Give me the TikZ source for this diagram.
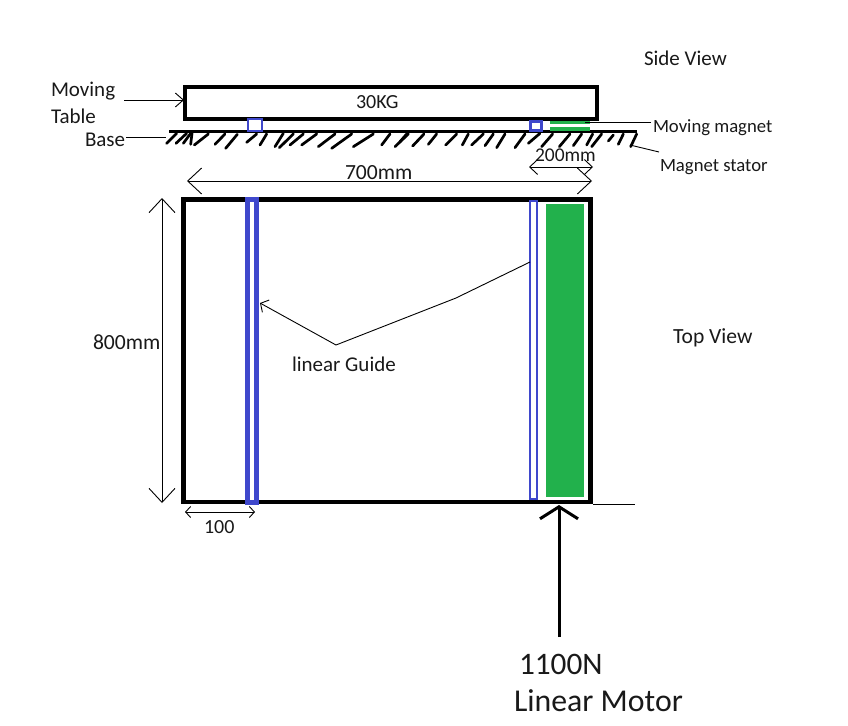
\documentclass[tikz,border=0pt]{standalone}
\usepackage{fontspec}
\setmainfont{Carlito}
\usetikzlibrary{arrows.meta}
\definecolor{guideblue}{RGB}{63,72,204}
\definecolor{magnetgreen}{RGB}{34,177,76}
\tikzset{
  txt/.style={anchor=west,inner sep=0pt,outer sep=0pt,text=black!90},
  lab/.style={txt,font=\fontsize{21}{25}\selectfont},
  heavy/.style={draw=black,line width=3.6pt,fill=white,inner sep=0pt,outer sep=0pt},
  guide/.style={draw=guideblue,fill=white,inner sep=0pt,outer sep=0pt},
  magnet/.style={fill=magnetgreen,inner sep=0pt,outer sep=0pt},
  leader/.style={draw=black,line width=0.9pt},
  dim/.style={leader,{Straight Barb[length=14pt,width=26pt]}-{Straight Barb[length=14pt,width=26pt]}},
  smalldim/.style={leader,{Straight Barb[length=8pt,width=15pt]}-{Straight Barb[length=8pt,width=15pt]}},
  hatch/.style={draw=black,line width=2.7pt,line cap=round}
}
\begin{document}
\begin{tikzpicture}[x=1pt,y=-1pt]
\useasboundingbox (0,0) rectangle (848,725);
% side view
\node[heavy,minimum width=412pt,minimum height=32pt] (table) at (390.8,103) {};
\node[txt,font=\fontsize{20}{24}\selectfont] (kg) at (356,102.5) {30KG};
\coordinate (baseL) at (169,131.5);
\coordinate (baseR) at (637,131.5);
\foreach \xa/\ya/\xb/\yb in {20/55/50/25,48/55/80/25,70/55/92/25,92/58/96/25,103/60/145/27,165/58/195/27,197/70/232/28,260/52/290/27,300/60/320/27,345/65/370/25,358/68/400/27,390/60/430/27,425/60/470/27,475/65/525/27,515/70/575/27,580/65/640/27,665/60/690/27,705/65/745/27}
  \draw[hatch] ({160+\xa/3},{125+\ya/3}) -- ({160+\xb/3},{125+\yb/3});
\foreach \xa/\ya/\xb/\yb in {0/50/20/27,38/63/72/27,85/58/110/27,137/60/170/27,187/60/205/27,215/60/250/27,255/62/280/27,290/68/315/27,345/68/375/27,385/55/420/25,425/65/458/27,478/65/510/27,520/62/545/27,560/60/578/27,575/65/605/27,625/48/640/30,655/58/670/27,692/65/710/27}
  \draw[hatch] ({400+\xa/3},{125+\ya/3}) -- ({400+\xb/3},{125+\yb/3});
\draw[draw=black,line width=3.2pt] (baseL) -- (baseR);
\node[guide,line width=2.6pt,minimum width=14pt,minimum height=12pt] (sideA) at (255,125) {};
\node[guide,line width=2.4pt,minimum width=11pt,minimum height=9pt] (sideB) at (536,126) {};
\node[magnet,minimum width=40pt,minimum height=3.5pt] (magMove) at (570,122.7) {};
\node[magnet,minimum width=40pt,minimum height=4.5pt] (magStat) at (570,129) {};
% top view
\node[draw=black,line width=4.6pt,inner sep=0pt,outer sep=0pt,minimum width=407pt,minimum height=302.5pt] (top) at (387,350.8) {};
\node[guide,line width=4.6pt,minimum width=9.5pt,minimum height=303pt] (guideA) at (252,351) {};
\node[guide,line width=2.4pt,minimum width=7pt,minimum height=298pt] (guideB) at (533.5,350) {};
\node[magnet,minimum width=38pt,minimum height=293pt] (stator) at (565,350.5) {};
% labels
\node[lab] (lblMoving) at (51,91.5) {Moving};
\node[lab] (lblTable) at (51,116.5) {Table};
\node[lab] (lblBase) at (85,139.5) {Base};
\node[lab] (lblSide) at (644,58.5) {Side View};
\node[txt,font=\fontsize{21.6}{26}\selectfont] (lblTop) at (673,337.5) {Top View};
\node[txt,font=\fontsize{18.7}{23}\selectfont] (lblMM) at (653,127.5) {Moving magnet};
\node[txt,font=\fontsize{18.7}{23}\selectfont] (lblMS) at (660,167.5) {Magnet stator};
\node[txt,font=\fontsize{21.6}{26}\selectfont] (lbl700) at (345,172.5) {700mm};
\node[txt,font=\fontsize{19.5}{23}\selectfont] (lbl200) at (535,155.5) {200mm};
\node[txt,font=\fontsize{21.6}{26}\selectfont] (lbl800) at (93,342.5) {800mm};
\node[lab] (lblGuide) at (292,364.5) {linear Guide};
\node[txt,font=\fontsize{20}{24}\selectfont] (lbl100) at (204,527.5) {100};
\node[txt,font=\fontsize{31.3}{36}\selectfont] (lblForce) at (519,664) {1100N};
\node[txt,font=\fontsize{31.8}{36}\selectfont] (lblMotor) at (514,700.5) {Linear Motor};
% connectors
\coordinate (mtS) at (124,100);
\coordinate (mtE) at (184,100);
\draw[leader,-{Straight Barb[length=8pt,width=14pt]}] (mtS) -- (mtE);
\coordinate (bS) at (126,137);
\coordinate (bE) at (166,137);
\draw[leader] (bS) -- (bE);
\coordinate (mmE) at (585,122);
\coordinate (mmS) at (651,122);
\draw[leader] (mmS) -- (mmE);
\coordinate (msE) at (630,145);
\coordinate (msS) at (659,152);
\draw[leader] (msS) -- (msE);
\coordinate (d7a) at (187,181);
\coordinate (d7b) at (592,181);
\draw[dim] (d7a) -- (d7b);
\coordinate (d2a) at (529,167);
\coordinate (d2b) at (593,167);
\draw[smalldim] (d2a) -- (d2b);
\coordinate (d8a) at (162,198);
\coordinate (d8b) at (162,503);
\draw[dim] (d8a) -- (d8b);
\coordinate (d1a) at (185,512);
\coordinate (d1b) at (255,512);
\draw[leader,{Straight Barb[length=5pt,width=11pt]}-{Straight Barb[length=5pt,width=11pt]}] (d1a) -- (d1b);
\coordinate (lgTip) at (260,303);
\coordinate (lgKnee) at (336,345);
\coordinate (lgMid) at (456,298);
\coordinate (lgEnd) at (530,262);
\draw[leader,{Straight Barb[length=6pt,width=14pt]}-] (lgTip) -- (lgKnee) -- (lgMid) -- (lgEnd);
\coordinate (extS) at (593,504);
\coordinate (baseExt) at (635,504);
\draw[leader] (extS) -- (baseExt);
\coordinate (fS) at (559,637);
\coordinate (fE) at (559,505);
\draw[draw=black,line width=3pt,-{Straight Barb[length=12pt,width=38pt,line width=3pt]}] (fS) -- (fE);
\end{tikzpicture}
\end{document}
